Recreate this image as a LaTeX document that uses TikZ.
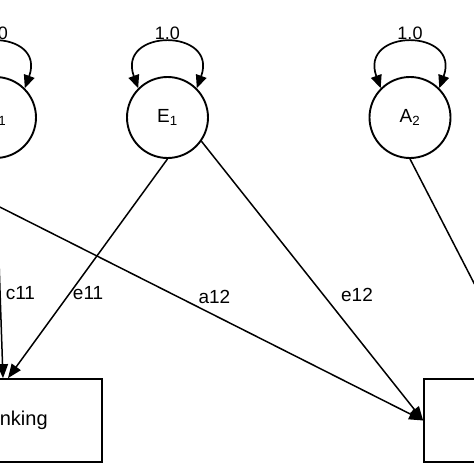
\documentclass[tikz,border=0pt]{standalone}
\usepackage{fontspec}
\setmainfont{Liberation Sans}
\usetikzlibrary{arrows.meta,positioning}

\begin{document}
\begin{tikzpicture}[x=1pt,y=1pt,
    latent/.style={circle,draw,line width=1.9pt,minimum size=81pt,inner sep=0pt,
      font=\fontsize{19}{22}\selectfont},
    observed/.style={rectangle,draw,line width=1.7pt,minimum width=182pt,minimum height=83pt,
      font=\fontsize{20}{24}\selectfont},
    varloop/.style={line width=1.7pt,
      {Triangle[length=13pt,width=11pt]}-{Triangle[length=13pt,width=11pt]}},
    every edge/.style={draw,line width=1.5pt,-{Triangle[length=14pt,width=11pt]}},
    lbl/.style={inner sep=2pt,font=\fontsize{19}{22}\selectfont}]
  \useasboundingbox (-167.5,-356.5) rectangle (306.5,117.5);
  \clip (-167.5,-356.5) rectangle (306.5,117.5);

  % latent factors
  \node[latent] (E1) {E\textsubscript{1}};
  \node[latent,node distance=172pt] (C1) [left of=E1] {C\textsubscript{1}};
  \node[latent,node distance=242.5pt] (A2) [right of=E1] {A\textsubscript{2}};
  \coordinate (A1out) at (-308.5,-18.5);

  % measured variables
  \node[observed] (box1) at (-156.5,-303) {Drinking};
  \node[observed] (box2) at (347.5,-303) {Problems};

  % variances
  \draw[varloop] (C1.135) .. controls +(110:64) and +(70:64) .. (C1.45)
    node[lbl,pos=.5,above=1pt,font=\fontsize{18}{21}\selectfont] {1.0};
  \draw[varloop] (E1.135) .. controls +(110:64) and +(70:64) .. (E1.45)
    node[lbl,pos=.5,above=1pt,font=\fontsize{18}{21}\selectfont] {1.0};
  \draw[varloop] (A2.135) .. controls +(110:64) and +(70:64) .. (A2.45)
    node[lbl,pos=.5,above=1pt,font=\fontsize{18}{21}\selectfont] {1.0};

  % paths
  \path (C1.south) edge node[lbl,pos=.61,right=3pt] {c11} ([xshift=-8pt]box1.north);
  \path (E1.south) edge node[lbl,pos=.61,right] {e11} ([xshift=-3pt]box1.north);
  \path (A1out) edge node[lbl,pos=.63,above=9pt] {a12} (box2.west);
  \path (E1.-35) edge node[lbl,pos=.55,right=15pt] {e12} (box2.west);
  \path (A2.south) edge ([xshift=8pt]box2.north);
\end{tikzpicture}
\end{document}
